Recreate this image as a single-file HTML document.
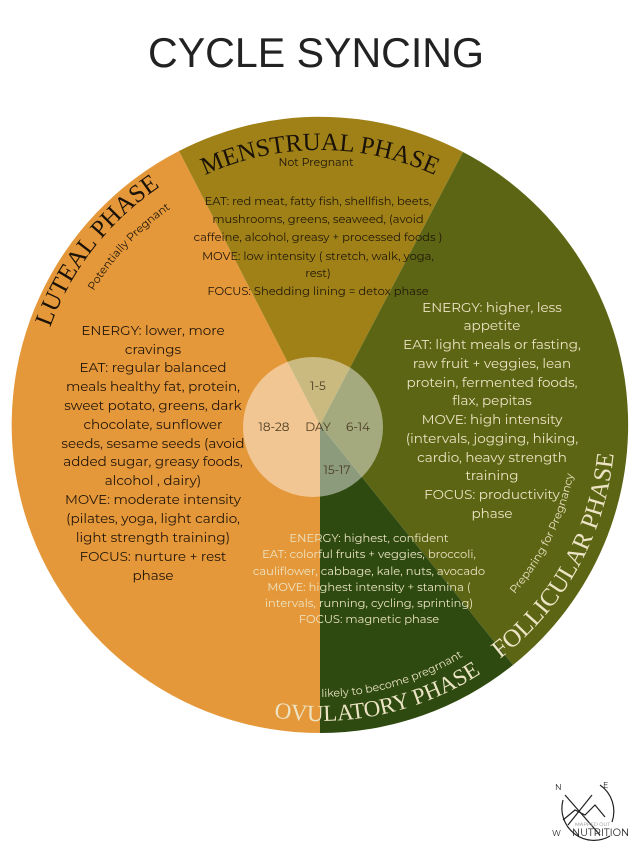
<!DOCTYPE html>
<html><head><meta charset="utf-8"><style>
html,body{margin:0;padding:0;background:#fff;}
svg{display:block;font-family:"Montserrat","Liberation Sans",sans-serif;}
</style></head><body>
<svg width="640" height="853" viewBox="0 0 640 853" xmlns="http://www.w3.org/2000/svg">
<defs>
<path id="cwM" d="M595,425 A275,275 0 1 1 45,425 A275,275 0 1 1 595,425"/>
<path id="cwL" d="M607,425 A287,287 0 1 1 33,425 A287,287 0 1 1 607,425"/>
<path id="cwP" d="M583,425 A263,263 0 1 1 57,425 A263,263 0 1 1 583,425"/>
<path id="ccwF" d="M615,425 A295,295 0 1 0 25,425 A295,295 0 1 0 615,425"/>
<path id="ccwO" d="M616,425 A296,296 0 1 0 24,425 A296,296 0 1 0 616,425"/>
<path id="ccwK" d="M592,425 A272,272 0 1 0 48,425 A272,272 0 1 0 592,425"/>
<path id="ccwR" d="M578,425 A258,258 0 1 0 62,425 A258,258 0 1 0 578,425"/>
</defs>

<text x="316" y="67" font-family="Liberation Sans Narrow, Liberation Sans, sans-serif" font-size="42" textLength="336" lengthAdjust="spacingAndGlyphs" text-anchor="middle" fill="#222">CYCLE SYNCING</text>

<path d="M320,425 L320,733 A308,308 0 0 1 179,151 Z" fill="#e5983a"/>
<path d="M320,425 L179,151 A308,308 0 0 1 463,152 Z" fill="#9f8118"/>
<path d="M320,425 L463,152 A308,308 0 0 1 513,665 Z" fill="#5c6514"/>
<path d="M320,425 L513,665 A308,308 0 0 1 320,733 Z" fill="#2e4a10"/>

<circle cx="313" cy="427" r="70" fill="#fff" opacity="0.45"/>
<g font-size="12" fill="#4a3a22" text-anchor="middle">
<text x="318" y="390">1-5</text>
<text x="274" y="431">18-28</text>
<text x="318" y="431">DAY</text>
<text x="358" y="431">6-14</text>
<text x="337" y="474">15-17</text>
</g>

<g transform="rotate(90 320 425)"><text font-family="Liberation Serif, serif" font-size="25" fill="#1a1208" text-anchor="middle"><textPath href="#cwM" startOffset="50%">MENSTRUAL PHASE</textPath></text></g>
<text x="316" y="166" font-size="11" fill="#1a1208" text-anchor="middle">Not Pregnant</text>
<g transform="rotate(38 320 425)"><text font-family="Liberation Serif, serif" font-size="25" fill="#1a1208" text-anchor="middle"><textPath href="#cwL" startOffset="50%">LUTEAL PHASE</textPath></text></g>
<g transform="rotate(43 320 425)"><text font-size="11" fill="#1a1208" text-anchor="middle"><textPath href="#cwP" startOffset="50%">Potentially Pregnant</textPath></text></g>
<g transform="rotate(-151 320 425)"><text font-family="Liberation Serif, serif" font-size="25" fill="#ece4c4" text-anchor="middle"><textPath href="#ccwF" startOffset="50%">FOLLICULAR PHASE</textPath></text></g>
<g transform="rotate(-154 320 425)"><text font-size="11" fill="#ece4c4" text-anchor="middle"><textPath href="#ccwR" startOffset="50%">Preparing for Pregnancy</textPath></text></g>
<g transform="rotate(-102 320 425)"><text font-family="Liberation Serif, serif" font-size="23" fill="#ece4c4" text-anchor="middle"><textPath href="#ccwO" startOffset="50%">OVULATORY  PHASE</textPath></text></g>
<g transform="rotate(-106 320 425)"><text font-size="11" fill="#ece4c4" text-anchor="middle"><textPath href="#ccwK" startOffset="50%">likely to become pregrnant</textPath></text></g>

<g font-size="11.5" fill="#1f1608" text-anchor="middle">
<text x="318" y="205">EAT: red meat, fatty fish, shellfish, beets,</text>
<text x="318" y="223">mushrooms, greens, seaweed, (avoid</text>
<text x="318" y="241">caffeine, alcohol, greasy + processed foods )</text>
<text x="318" y="260">MOVE: low intensity ( stretch, walk, yoga,</text>
<text x="318" y="277">rest)</text>
<text x="318" y="295">FOCUS:  Shedding lining = detox phase</text>
</g>

<g font-size="13.5" fill="#22160a" text-anchor="middle">
<text x="153" y="335">ENERGY: lower, more</text>
<text x="153" y="354">cravings</text>
<text x="153" y="372">EAT: regular balanced</text>
<text x="153" y="391">meals healthy fat, protein,</text>
<text x="153" y="410">sweet potato, greens, dark</text>
<text x="153" y="429">chocolate, sunflower</text>
<text x="153" y="448">seeds, sesame seeds (avoid</text>
<text x="153" y="466">added sugar, greasy foods,</text>
<text x="153" y="485">alcohol , dairy)</text>
<text x="153" y="504">MOVE: moderate intensity</text>
<text x="153" y="523">(pilates, yoga, light cardio,</text>
<text x="153" y="542">light strength training)</text>
<text x="153" y="561">FOCUS:  nurture + rest</text>
<text x="153" y="580">phase</text>
</g>

<g font-size="13.5" fill="#ece4c4" text-anchor="middle">
<text x="492" y="312">ENERGY: higher, less</text>
<text x="492" y="330">appetite</text>
<text x="492" y="349">EAT: light meals or fasting,</text>
<text x="492" y="368">raw fruit + veggies, lean</text>
<text x="492" y="387">protein, fermented foods,</text>
<text x="492" y="405">flax, pepitas</text>
<text x="492" y="424">MOVE: high intensity</text>
<text x="492" y="443">(intervals, jogging, hiking,</text>
<text x="492" y="462">cardio, heavy strength</text>
<text x="492" y="480">training</text>
<text x="492" y="499">FOCUS:  productivity</text>
<text x="492" y="518">phase</text>
</g>

<g font-size="11.5" fill="#ece4c4" text-anchor="middle">
<text x="369" y="542">ENERGY: highest, confident</text>
<text x="369" y="558">EAT: colorful fruits + veggies, broccoli,</text>
<text x="369" y="575">cauliflower, cabbage, kale, nuts, avocado</text>
<text x="369" y="591">MOVE: highest intensity + stamina (</text>
<text x="369" y="607">intervals, running, cycling, sprinting)</text>
<text x="369" y="623">FOCUS:  magnetic phase</text>
</g>

<g stroke="#222" fill="none" stroke-width="1.2">
<path d="M563,800 A32,32 0 0 0 610,836"/>
<path d="M600,785 A32,32 0 0 1 612,822"/>
<line x1="565" y1="795" x2="600" y2="835"/>
<line x1="592" y1="795" x2="568" y2="825"/>
<path d="M563,820 L575,810 L585,815 L595,805 L605,817"/>
</g>
<text x="555" y="790" font-size="8" fill="#222">N</text>
<text x="603" y="788" font-size="8" fill="#222">E</text>
<text x="552" y="836" font-size="8" fill="#222">W</text>
<text x="575" y="826" font-size="5" fill="#888">MAPPED OUT</text>
<text x="572" y="836" font-size="10" fill="#222">NUTRITION</text>
</svg>
</body></html>
